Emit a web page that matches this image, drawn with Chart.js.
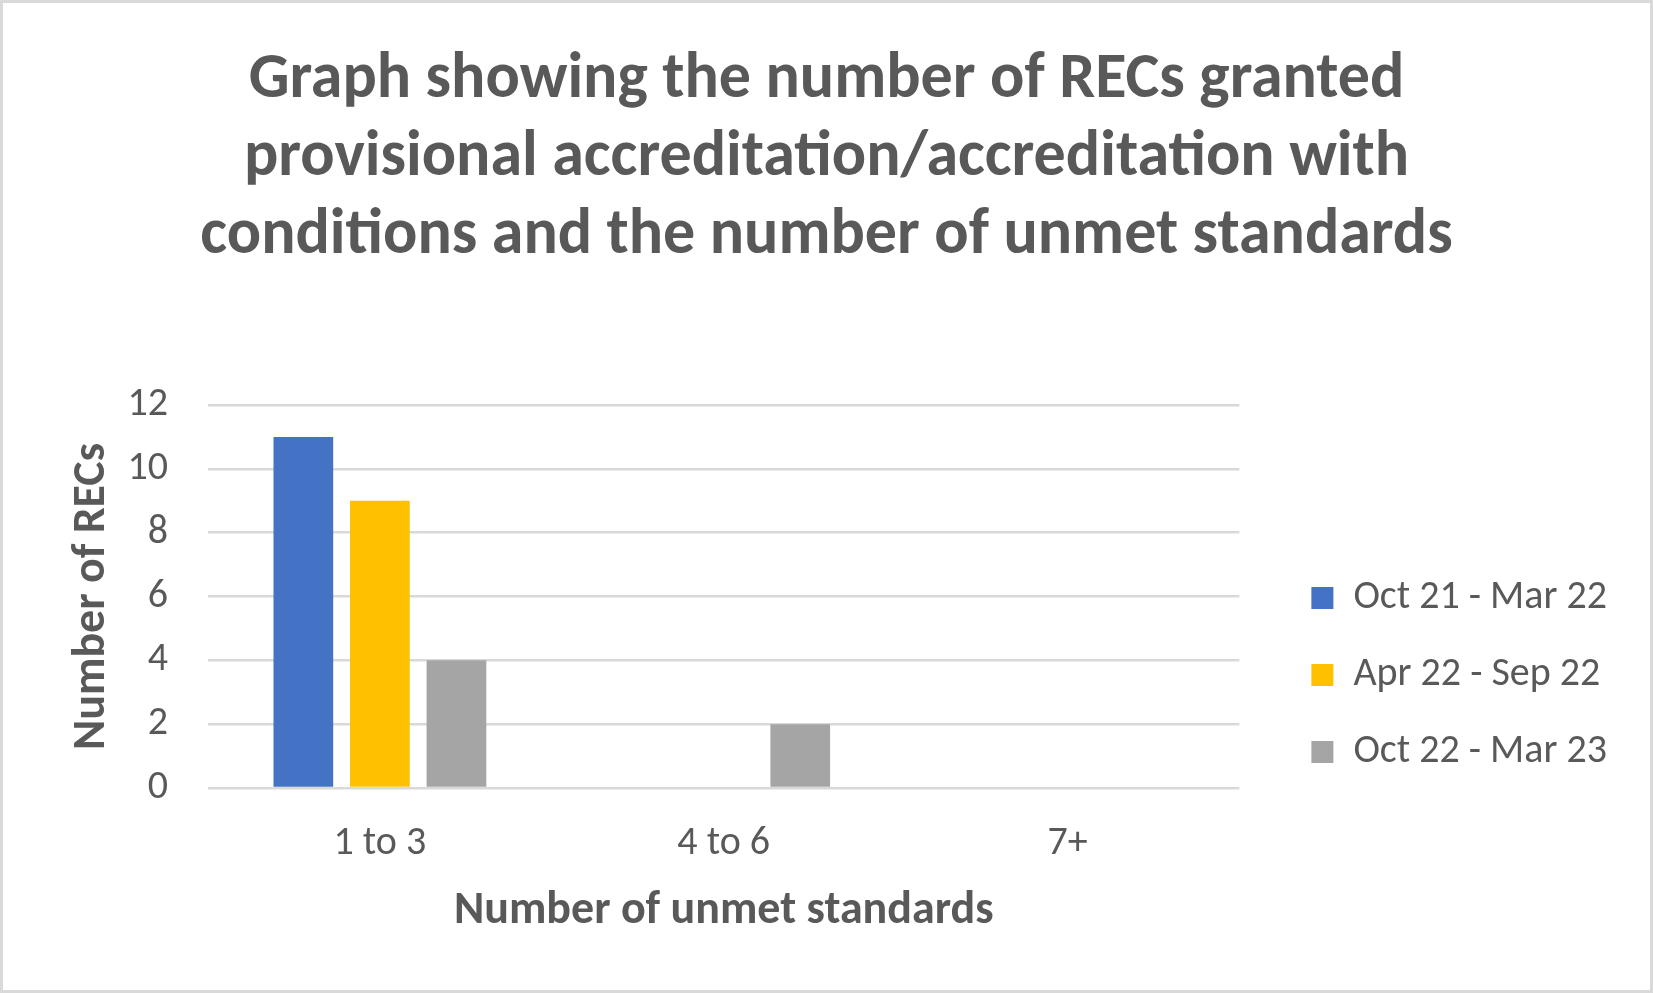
<!DOCTYPE html>
<html>
<head>
<meta charset="utf-8">
<script src="https://cdn.jsdelivr.net/npm/chart.js@4/dist/chart.umd.min.js"></script>
<style>
  body { margin: 0; background: #fff; }
  #frame { width: 1653px; height: 993px; box-sizing: border-box; border: 3px solid #d9d9d9; background: #fff; }
  #chart { display: block; }
</style>
</head>
<body>
<div id="frame"><canvas id="chart" width="1647" height="987"></canvas></div>
<script>
'use strict';

let categories = ['1 to 3', '4 to 6', '7+'];
let oct21Mar22 = [11, 0, 0];
let apr22Sep22 = [9, 0, 0];
let oct22Mar23 = [4, 2, 0];
let yTicks = [0, 2, 4, 6, 8, 10, 12];

let fontName = 'Calibri, Carlito, Lato, sans-serif';
let textColor = '#595959';
let gridColor = '#d9d9d9';

const ctx = document.getElementById('chart');

new Chart(ctx, {
  type: 'bar',
  data: {
    labels: categories,
    datasets: [
      {
        label: 'Oct 21 - Mar 22',
        data: oct21Mar22,
        backgroundColor: '#4472c4',
      },
      {
        label: 'Apr 22 - Sep 22',
        data: apr22Sep22,
        backgroundColor: '#ffc000',
      },
      {
        label: 'Oct 22 - Mar 23',
        data: oct22Mar23,
        backgroundColor: '#a5a5a5',
      },
    ],
  },
  options: {
    responsive: false,
    animation: false,
    devicePixelRatio: 1,
    categoryPercentage: 0.668,
    barPercentage: 0.78,
    layout: {
      // same left and right so the title stays centred
      padding: { left: 33, right: 33, top: 0, bottom: 0 },
    },
    plugins: {
      title: {
        display: true,
        text: [
          'Graph showing the number of RECs granted',
          'provisional accreditation/accreditation with',
          'conditions and the number of unmet standards',
        ],
        color: textColor,
        font: { family: fontName, size: 64, weight: 'bold', lineHeight: 78 / 64 },
        padding: { top: 39, bottom: 129 },
      },
      legend: {
        position: 'right',
        align: 'start',
        title: {
          // empty title only pushes the entries down to the middle
          display: true,
          text: ' ',
          font: { size: 10, lineHeight: 1 },
          padding: { top: 528, bottom: 0 },
        },
        labels: {
          color: textColor,
          font: { family: fontName, size: 40 },
          boxWidth: 22,
          boxHeight: 22,
          padding: 37,
        },
      },
      tooltip: { enabled: false },
    },
    scales: {
      x: {
        afterFit: function (scale) {
          scale.height = 202;
        },
        grid: { display: false },
        border: { display: false },
        ticks: {
          color: textColor,
          font: { family: fontName, size: 40 },
          padding: 24,
        },
        title: {
          display: true,
          text: 'Number of unmet standards',
          color: textColor,
          font: { family: fontName, size: 46, weight: 'bold' },
          padding: { top: 10, bottom: 51 },
        },
      },
      y: {
        min: 0,
        max: 12,
        afterBuildTicks: function (scale) {
          scale.ticks = yTicks.map(v => ({ value: v }));
        },
        afterFit: function (scale) {
          scale.width = 172;
        },
        grid: { color: gridColor, lineWidth: 2.5, drawTicks: false },
        border: { display: false },
        ticks: {
          color: textColor,
          font: { family: fontName, size: 40 },
          padding: 40,
        },
        title: {
          display: true,
          text: 'Number of RECs',
          color: textColor,
          font: { family: fontName, size: 46, weight: 'bold' },
          padding: { top: 29, bottom: 10 },
        },
      },
      gap: {
        // hidden axis, keeps the space between plot and legend
        type: 'linear',
        position: 'right',
        display: false,
        afterFit: function (scale) {
          scale.width = 35;
        },
      },
    },
  },
});
</script>
</body>
</html>
